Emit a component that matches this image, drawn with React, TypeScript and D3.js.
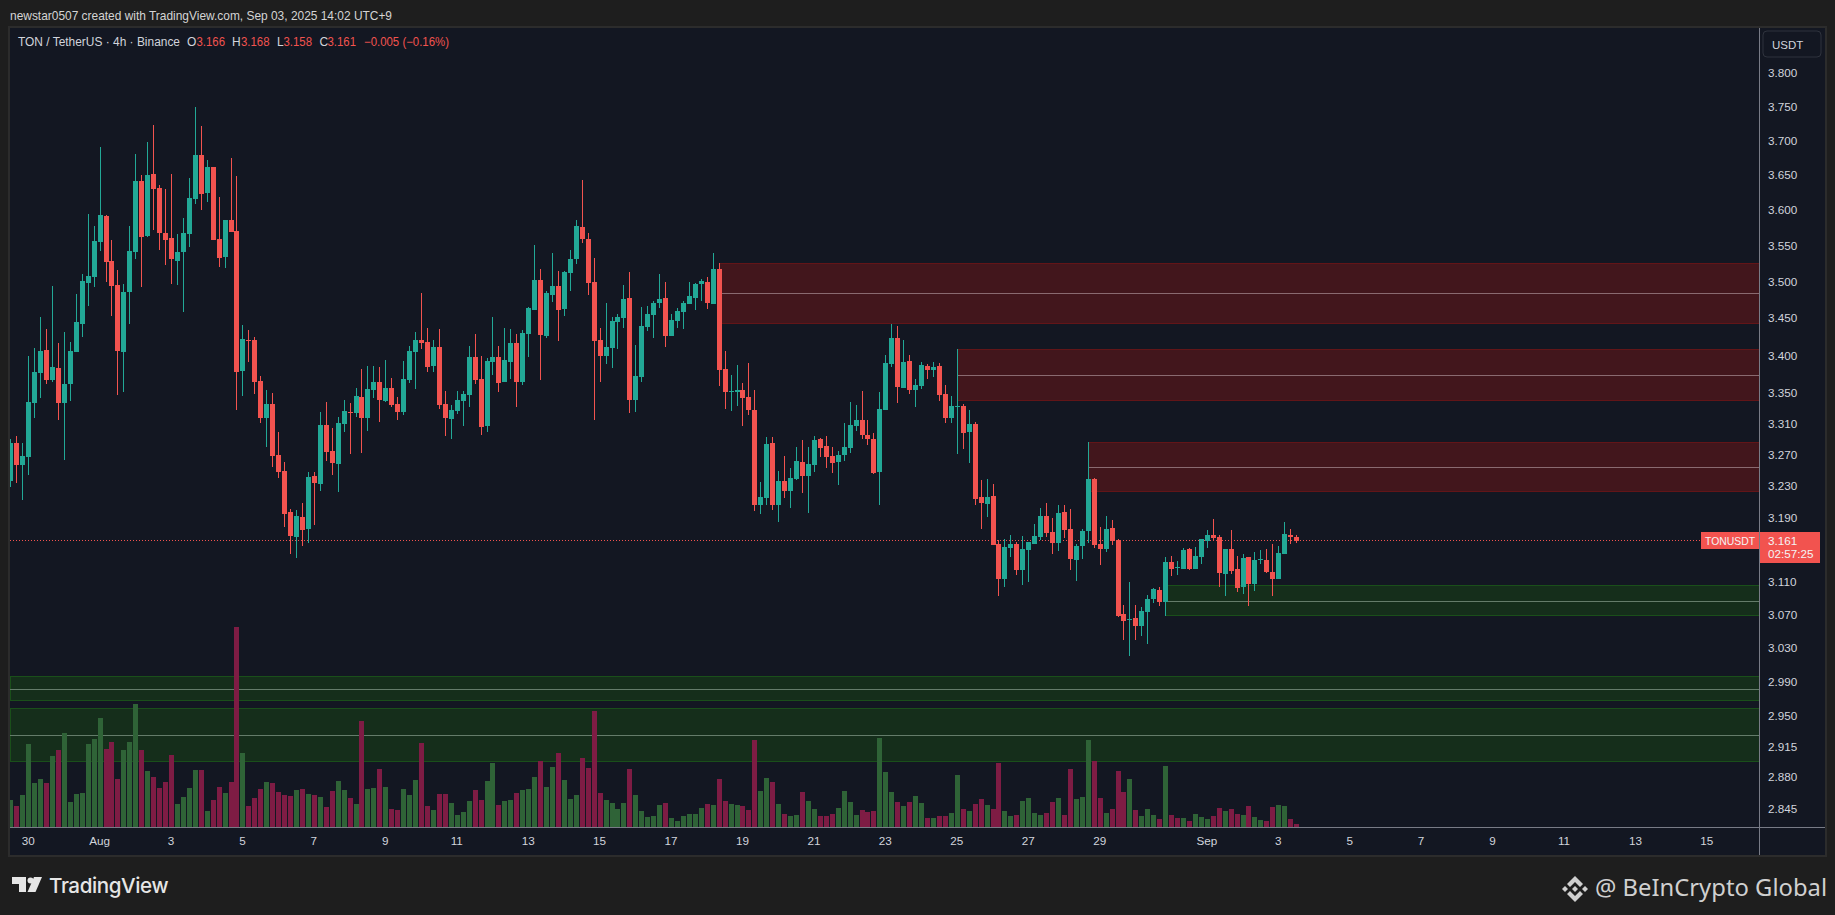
import * as d3 from 'd3';

// TON / USDT 4h candles
const opens = [
  3.236,3.285,3.257,3.267,3.337,3.377,3.407,3.367,3.383,3.337,
  3.362,3.405,3.442,3.498,3.506,3.555,3.592,3.529,3.496,3.405,
  3.486,3.541,3.642,3.564,3.652,3.632,3.568,3.561,3.529,3.541,
  3.566,3.616,3.679,3.624,3.662,3.559,3.534,3.586,3.571,3.379,
  3.421,3.421,3.366,3.317,3.336,3.269,3.249,3.197,3.166,3.191,
  3.176,3.242,3.232,3.308,3.274,3.258,3.310,3.325,3.324,3.345,
  3.317,3.354,3.365,3.340,3.357,3.336,3.325,3.367,3.405,3.421,
  3.418,3.386,3.411,3.336,3.316,3.327,3.340,3.348,3.398,3.369,
  3.307,3.391,3.398,3.365,3.391,3.417,3.365,3.429,3.461,3.502,
  3.426,3.482,3.494,3.463,3.512,3.532,3.576,3.559,3.500,3.421,
  3.399,3.410,3.445,3.450,3.478,3.341,3.371,3.438,3.454,3.471,
  3.478,3.426,3.446,3.459,3.470,3.478,3.497,3.500,3.470,3.518,
  3.382,3.351,3.351,3.354,3.345,3.328,3.205,3.215,3.285,3.206,
  3.236,3.223,3.239,3.260,3.243,3.257,3.290,3.281,3.268,3.260,
  3.269,3.278,3.307,3.315,3.295,3.290,3.248,3.328,3.389,3.423,
  3.357,3.393,3.354,3.359,3.386,3.381,3.386,3.349,3.317,3.332,
  3.333,3.299,3.310,3.216,3.207,3.217,3.157,3.114,3.152,3.157,
  3.125,3.149,3.157,3.166,3.192,3.172,3.158,3.197,3.176,3.137,
  3.154,3.173,3.239,3.157,3.151,3.177,3.162,3.071,3.064,3.066,
  3.056,3.074,3.089,3.100,3.086,3.135,3.127,3.126,3.151,3.126,
  3.141,3.161,3.168,3.166,3.120,3.151,3.126,3.104,3.141,3.108,
  3.137,3.137,3.122,3.114,3.145,3.168,3.166,
];
const highs = [
  3.290,3.294,3.285,3.399,3.410,3.452,3.435,3.494,3.416,3.431,
  3.418,3.483,3.510,3.595,3.578,3.690,3.593,3.558,3.516,3.497,
  3.578,3.680,3.650,3.698,3.723,3.636,3.630,3.652,3.566,3.589,
  3.646,3.749,3.721,3.672,3.662,3.619,3.586,3.675,3.649,3.441,
  3.434,3.425,3.373,3.354,3.350,3.299,3.260,3.201,3.199,3.208,
  3.248,3.248,3.325,3.338,3.304,3.319,3.341,3.337,3.357,3.382,
  3.386,3.386,3.385,3.394,3.370,3.345,3.393,3.413,3.431,3.485,
  3.437,3.421,3.436,3.353,3.334,3.353,3.353,3.413,3.429,3.399,
  3.397,3.452,3.413,3.437,3.436,3.429,3.434,3.465,3.551,3.518,
  3.487,3.540,3.515,3.515,3.544,3.586,3.643,3.568,3.533,3.437,
  3.471,3.452,3.456,3.496,3.514,3.414,3.465,3.467,3.474,3.511,
  3.500,3.456,3.464,3.474,3.500,3.498,3.504,3.507,3.540,3.526,
  3.406,3.374,3.387,3.363,3.390,3.354,3.235,3.293,3.293,3.249,
  3.268,3.253,3.280,3.289,3.280,3.294,3.291,3.294,3.280,3.274,
  3.311,3.338,3.334,3.353,3.315,3.298,3.351,3.401,3.442,3.440,
  3.421,3.401,3.369,3.391,3.389,3.391,3.390,3.361,3.346,3.409,
  3.336,3.328,3.312,3.237,3.239,3.232,3.162,3.163,3.168,3.159,
  3.167,3.159,3.182,3.202,3.208,3.189,3.205,3.205,3.201,3.157,
  3.176,3.286,3.240,3.178,3.192,3.187,3.163,3.082,3.110,3.082,
  3.080,3.094,3.103,3.104,3.141,3.142,3.136,3.152,3.152,3.153,
  3.163,3.174,3.188,3.168,3.151,3.174,3.142,3.145,3.141,3.147,
  3.149,3.151,3.157,3.154,3.184,3.176,3.168,
];
const lows = [
  3.228,3.234,3.212,3.244,3.317,3.344,3.362,3.365,3.315,3.263,
  3.340,3.405,3.425,3.467,3.493,3.543,3.500,3.453,3.348,3.351,
  3.442,3.532,3.493,3.562,3.572,3.544,3.523,3.497,3.496,3.459,
  3.548,3.609,3.600,3.612,3.558,3.520,3.519,3.569,3.328,3.346,
  3.391,3.349,3.311,3.280,3.254,3.240,3.178,3.144,3.140,3.154,
  3.158,3.181,3.223,3.262,3.244,3.222,3.299,3.271,3.319,3.272,
  3.300,3.344,3.312,3.338,3.332,3.315,3.321,3.363,3.355,3.409,
  3.378,3.378,3.329,3.294,3.290,3.323,3.307,3.332,3.362,3.295,
  3.299,3.374,3.351,3.365,3.369,3.332,3.361,3.398,3.461,3.367,
  3.423,3.472,3.419,3.453,3.487,3.525,3.554,3.482,3.315,3.365,
  3.389,3.383,3.409,3.437,3.324,3.325,3.365,3.433,3.423,3.464,
  3.411,3.426,3.437,3.436,3.470,3.461,3.474,3.463,3.470,3.359,
  3.329,3.327,3.333,3.307,3.321,3.198,3.194,3.206,3.199,3.184,
  3.215,3.202,3.237,3.221,3.196,3.248,3.267,3.253,3.246,3.231,
  3.262,3.272,3.300,3.290,3.282,3.245,3.205,3.328,3.385,3.337,
  3.357,3.349,3.332,3.355,3.369,3.371,3.340,3.311,3.311,3.271,
  3.277,3.259,3.206,3.176,3.191,3.156,3.093,3.104,3.141,3.119,
  3.106,3.110,3.157,3.162,3.166,3.145,3.148,3.164,3.125,3.111,
  3.138,3.158,3.152,3.131,3.147,3.156,3.068,3.040,3.021,3.040,
  3.044,3.035,3.084,3.081,3.069,3.117,3.119,3.126,3.125,3.126,
  3.132,3.152,3.161,3.104,3.093,3.120,3.098,3.095,3.081,3.099,
  3.132,3.121,3.093,3.114,3.145,3.157,3.158,
];
const closes = [
  3.285,3.257,3.268,3.338,3.378,3.406,3.367,3.385,3.337,3.362,
  3.406,3.445,3.501,3.508,3.557,3.593,3.527,3.494,3.406,3.486,
  3.543,3.642,3.562,3.650,3.630,3.568,3.558,3.532,3.541,3.568,
  3.617,3.679,3.623,3.662,3.558,3.533,3.586,3.569,3.378,3.422,
  3.419,3.365,3.317,3.336,3.268,3.248,3.194,3.167,3.192,3.174,
  3.241,3.234,3.308,3.273,3.259,3.311,3.327,3.324,3.346,3.317,
  3.355,3.365,3.341,3.357,3.334,3.325,3.369,3.406,3.421,3.417,
  3.385,3.411,3.334,3.317,3.328,3.341,3.349,3.398,3.367,3.306,
  3.393,3.398,3.363,3.394,3.417,3.365,3.430,3.464,3.502,3.427,
  3.485,3.494,3.461,3.514,3.532,3.578,3.559,3.498,3.419,3.399,
  3.411,3.446,3.452,3.476,3.341,3.373,3.440,3.456,3.471,3.476,
  3.426,3.448,3.460,3.471,3.481,3.497,3.501,3.471,3.518,3.381,
  3.351,3.353,3.354,3.344,3.328,3.205,3.216,3.284,3.206,3.236,
  3.223,3.240,3.262,3.243,3.258,3.289,3.278,3.267,3.259,3.269,
  3.280,3.308,3.315,3.295,3.290,3.246,3.329,3.390,3.423,3.358,
  3.391,3.354,3.361,3.387,3.381,3.385,3.348,3.317,3.333,3.333,
  3.298,3.310,3.213,3.208,3.216,3.156,3.114,3.153,3.157,3.125,
  3.151,3.159,3.167,3.192,3.171,3.158,3.196,3.174,3.138,3.154,
  3.173,3.239,3.156,3.151,3.176,3.161,3.069,3.063,3.065,3.057,
  3.075,3.089,3.101,3.086,3.135,3.126,3.128,3.149,3.126,3.142,
  3.163,3.168,3.164,3.121,3.151,3.123,3.103,3.140,3.108,3.137,
  3.138,3.122,3.114,3.146,3.169,3.166,3.161,
];
const volumes = [
  81,63,96,249,132,144,132,213,231,282,
  75,99,102,249,264,327,234,255,144,231,
  255,369,231,168,150,117,135,216,69,90,
  117,171,171,48,81,120,102,135,600,222,
  63,87,114,135,132,105,96,93,111,114,
  99,96,90,60,108,138,111,87,69,318,
  114,117,174,120,54,51,114,96,141,252,
  63,51,99,99,72,36,45,78,111,81,
  138,192,66,78,81,102,111,114,150,198,
  120,180,222,141,84,96,207,177,348,102,
  81,72,54,72,174,96,48,30,33,66,
  72,27,18,33,39,39,57,69,66,144,
  78,69,66,63,51,261,108,147,135,69,
  39,33,36,105,78,54,33,33,39,57,
  108,75,36,51,45,48,267,165,105,75,
  63,75,93,72,27,27,33,33,42,156,
  54,48,69,84,66,54,192,48,33,36,
  78,87,42,36,42,75,87,36,174,84,
  90,261,198,87,42,54,168,105,144,51,
  33,54,36,24,183,36,27,27,18,39,
  30,24,33,57,48,54,39,36,63,30,
  21,18,60,66,63,24,9,
];
// this doji prints teal but its volume bar is red
const redVolumeDoji = [196];

const priceTicks = [3.8,3.75,3.7,3.65,3.6,3.55,3.5,3.45,3.4,3.35,3.31,3.27,3.23,3.19,3.11,3.07,3.03,2.99,2.95,2.915,2.88,2.845];
const timeLabels = ['30','Aug','3','5','7','9','11','13','15','17','19','21','23','25','27','29','Sep','3','5','7','9','11','13','15'];
const timeBars = [3,15,27,39,51,63,75,87,99,111,123,135,147,159,171,183,201,213,225,237,249,261,273,285];

// supply and demand boxes
const zoneHigh = [3.5255,3.4081,3.2857,3.1051,2.9967,2.9584];
const zoneMid = [3.4841,3.3735,3.2535,3.0864,2.9814,2.9279];
const zoneLow = [3.4426,3.3399,3.2224,3.0690,2.9681,2.8977];
const zoneStart = [119,159,181,194,-3,-3];
const zoneKind = ['sell','sell','sell','buy','buy','buy'];

const lastPrice = 3.161;
const legendValues = ['3.166','3.168','3.158','3.161'];

const W = 1835;
const H = 915;
const left = 10;
const top = 28;
const axisX = 1759;
const axisY = 827;
const right = 1825;
const bottom = 855;

const UP = '#22a896';
const DOWN = '#f2534f';
const TEXT = '#d1d4dc';
const FONT = '"Liberation Sans", Arial, sans-serif';

const x = d3.scaleLinear().domain([0, 216]).range([10.28, 1296.1]);
const y = d3.scaleLog().domain([3.8, 2.845]).range([72.7, 808.3]);
const v = d3.scaleLinear().domain([0, 600]).range([axisY, 627]);

const px = (i: number) => Math.round(x(i));

const App = () => {
  const idx = d3.range(opens.length);
  const fmt = d3.format('.3f');
  const priceY = y(lastPrice);

  return (
    <svg width={W} height={H} style={{ position: 'fixed', left: 0, top: 0, background: '#1e1e1e', fontFamily: FONT }}>
      <defs>
        <clipPath id="plot"><rect x={left} y={top} width={axisX - left} height={axisY - top} /></clipPath>
      </defs>

      <text x={10} y={19.5} fontSize={12.4} fill="#d4d4d4" textLength={382} lengthAdjust="spacingAndGlyphs">newstar0507 created with TradingView.com, Sep 03, 2025 14:02 UTC+9</text>

      <rect x={left - 1} y={top - 1} width={right - left + 2} height={bottom - top + 2} fill="#131722" stroke="#2c2c2c" strokeWidth={2} />

      <g clipPath="url(#plot)" shapeRendering="crispEdges">
        {zoneKind.map((k, i) => {
          const x0 = Math.max(left, px(zoneStart[i]));
          const sell = k === 'sell';
          return (
            <g key={i}>
              <rect x={x0} y={y(zoneHigh[i])} width={axisX - x0} height={y(zoneLow[i]) - y(zoneHigh[i])}
                fill={sell ? '#42161c' : '#152e1b'} stroke={sell ? '#621518' : '#1a4f1a'} strokeWidth={1} />
              <line x1={x0} x2={axisX} y1={y(zoneMid[i])} y2={y(zoneMid[i])} stroke={sell ? '#8a6a70' : '#647c6a'} />
            </g>
          );
        })}

        {idx.map(i => {
          const red = closes[i] < opens[i] || redVolumeDoji.includes(i);
          return <rect key={i} x={px(i) - 2} y={v(volumes[i])} width={5} height={axisY - v(volumes[i])} fill={red ? '#7e1c44' : '#2f6337'} />;
        })}

        <line x1={left} x2={1701} y1={priceY} y2={priceY} stroke={DOWN} strokeDasharray="1 2" />

        {idx.map(i => {
          const color = closes[i] < opens[i] ? DOWN : UP;
          const t = y(Math.max(opens[i], closes[i]));
          const b = y(Math.min(opens[i], closes[i]));
          return (
            <g key={i} fill={color}>
              <rect x={px(i)} y={y(highs[i])} width={1} height={y(lows[i]) - y(highs[i])} />
              <rect x={px(i) - 2} y={t} width={5} height={Math.max(1, b - t)} />
            </g>
          );
        })}
      </g>

      <g shapeRendering="crispEdges" stroke="#787b86">
        <line x1={axisX} x2={axisX} y1={top} y2={bottom} />
        <line x1={left} x2={right} y1={axisY} y2={axisY} />
      </g>

      {/* legend */}
      <g fontSize={12}>
        <text x={18} y={45.8} fill={TEXT} textLength={162} lengthAdjust="spacingAndGlyphs">TON / TetherUS · 4h · Binance</text>
        {['O', 'H', 'L', 'C'].map((s, i) => (
          <g key={s}>
            <text x={[187, 232, 277, 319.5][i]} y={45.8} fill={TEXT}>{s}</text>
            <text x={[196.5, 241, 283.5, 327.5][i]} y={45.8} fill={DOWN} textLength={28.5} lengthAdjust="spacingAndGlyphs">{legendValues[i]}</text>
          </g>
        ))}
        <text x={364} y={45.8} fill={DOWN} textLength={85} lengthAdjust="spacingAndGlyphs">−0.005 (−0.16%)</text>
      </g>

      {/* price axis */}
      <rect x={1763} y={31} width={58} height={26} rx={4} fill="none" stroke="#2f333d" />
      <text x={1772} y={48.7} fontSize={11.5} fill={TEXT}>USDT</text>
      <g fontSize={11.7} fill={TEXT}>
        {priceTicks.map(p => <text key={p} x={1768} y={y(p) + 4.2}>{fmt(p)}</text>)}
      </g>

      {/* time axis */}
      <g fontSize={11.7} fill={TEXT} textAnchor="middle">
        {timeLabels.map((t, i) => <text key={i} x={x(timeBars[i])} y={845}>{t}</text>)}
      </g>

      {/* last price tags */}
      <g shapeRendering="crispEdges">
        <rect x={1701} y={532} width={58} height={17} fill={DOWN} />
        <rect x={1760} y={532} width={60} height={31} fill={DOWN} />
      </g>
      <text x={1705} y={544.5} fontSize={11.5} fill="#f4f4f4" textLength={50} lengthAdjust="spacingAndGlyphs">TONUSDT</text>
      <text x={1768} y={544.5} fontSize={11.7} fill="#f4f4f4">{fmt(lastPrice)}</text>
      <text x={1768} y={558} fontSize={11.7} fill="#f4f4f4">02:57:25</text>

      {/* footer marks */}
      <g fill="#e6e6e6">
        <path d="M12 877H26V892H19V884H12Z" />
        <circle cx={30.5} cy={880.5} r={3} />
        <path d="M34 877H42L35.5 892H27.5Z" />
      </g>
      <text x={49} y={892.5} fontSize={20.6} fontWeight={500} fontFamily="Inter, sans-serif" fill="#e6e6e6" letterSpacing={-0.4}>TradingView</text>

      <g transform="translate(1575 889)" fill="#cfcfcf">
        <path d="M0-13 8-5 5-2 0-7-5-2-8-5Z" />
        <path d="M0 13 8 5 5 2 0 7-5 2-8 5Z" />
        <path d="M0-3 3 0 0 3-3 0Z" />
        <path d="M-10-3-7 0-10 3-13 0Z" />
        <path d="M10-3 13 0 10 3 7 0Z" />
      </g>
      <text x={1595} y={896} fontSize={23.8} fontFamily='"Noto Sans", sans-serif' fill="#d0d0d0">@ BeInCrypto Global</text>
    </svg>
  );
};

export default App;
